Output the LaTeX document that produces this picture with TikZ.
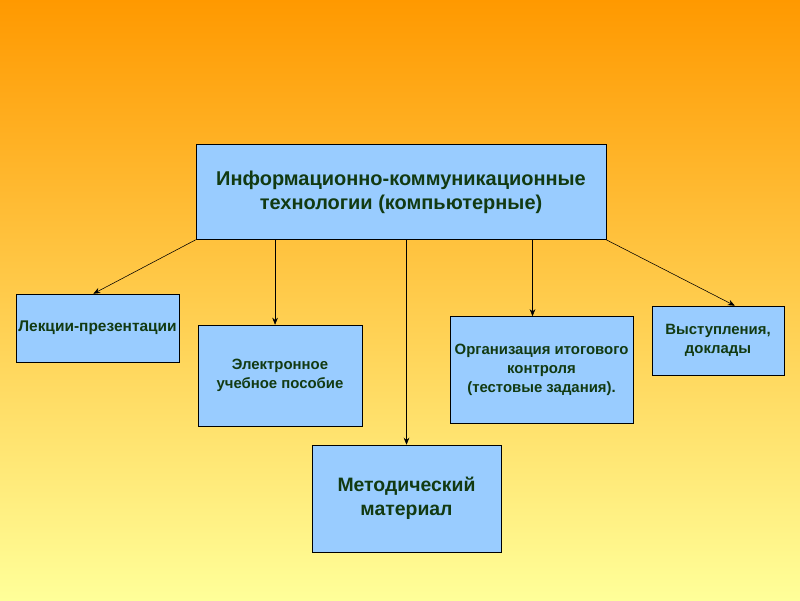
\documentclass[tikz,border=0pt]{standalone}
\usepackage{fontspec}
\setmainfont{Liberation Sans}
\usepackage{xcolor}
\definecolor{BoxFill}{HTML}{99CCFF}
\definecolor{BoxText}{HTML}{123A12}
\definecolor{BgTop}{HTML}{FF9900}
\definecolor{BgBottom}{HTML}{FFFF99}
\usetikzlibrary{arrows.meta}

\begin{document}
\begin{tikzpicture}[x=0.025cm, y=-0.025cm,
    box/.style={draw=black, fill=BoxFill, text=BoxText, align=center, inner sep=1pt},
    small/.style={font=\fontsize{10.6}{13.5}\selectfont\bfseries},
    link/.style={-{Stealth[length=5pt, width=4pt]}, black}]

\fill[top color=BgTop, bottom color=BgBottom, middle color=BgTop!50!BgBottom] (0,0) rectangle (800,600);
\useasboundingbox (0,0) rectangle (800,600);

\node[box, minimum width=410*0.025cm, minimum height=95*0.025cm, font=\fontsize{14.2}{17}\selectfont\bfseries]
    (ikt) at (401,192) {Информационно-коммуникационные\\технологии (компьютерные)};
\node[box, small, minimum width=163*0.025cm, minimum height=68*0.025cm, font=\fontsize{11}{13.5}\selectfont\bfseries]
    (lec) at (97.5,328) {Лекции-презентации};
\node[box, small, minimum width=164*0.025cm, minimum height=101*0.025cm]
    (el) at (280,375.5) {Электронное\\учебное пособие};
\node[box, minimum width=189*0.025cm, minimum height=107*0.025cm, font=\fontsize{13.8}{17}\selectfont\bfseries]
    (met) at (406.5,498.5) {Методический\\материал};
\node[box, small, minimum width=183*0.025cm, minimum height=107*0.025cm]
    (org) at (541.5,370) {Организация итогового\\контроля\\(тестовые задания).};
\node[box, small, minimum width=132*0.025cm, minimum height=69*0.025cm]
    (vys) at (718,340.5) {Выступления,\\доклады};

\draw[link] (ikt.south west) -- ([xshift=-3pt]lec.north);
\draw[link] ([xshift=-3.5pt]ikt.south -| el.north) -- ([xshift=-3.5pt]el.north);
\draw[link] (ikt.south -| met.north) -- (met.north);
\draw[link] ([xshift=-6.4pt]ikt.south -| org.north) -- ([xshift=-6.4pt]org.north);
\draw[link] (ikt.south east) -- ([xshift=12pt]vys.north);

\end{tikzpicture}
\end{document}
